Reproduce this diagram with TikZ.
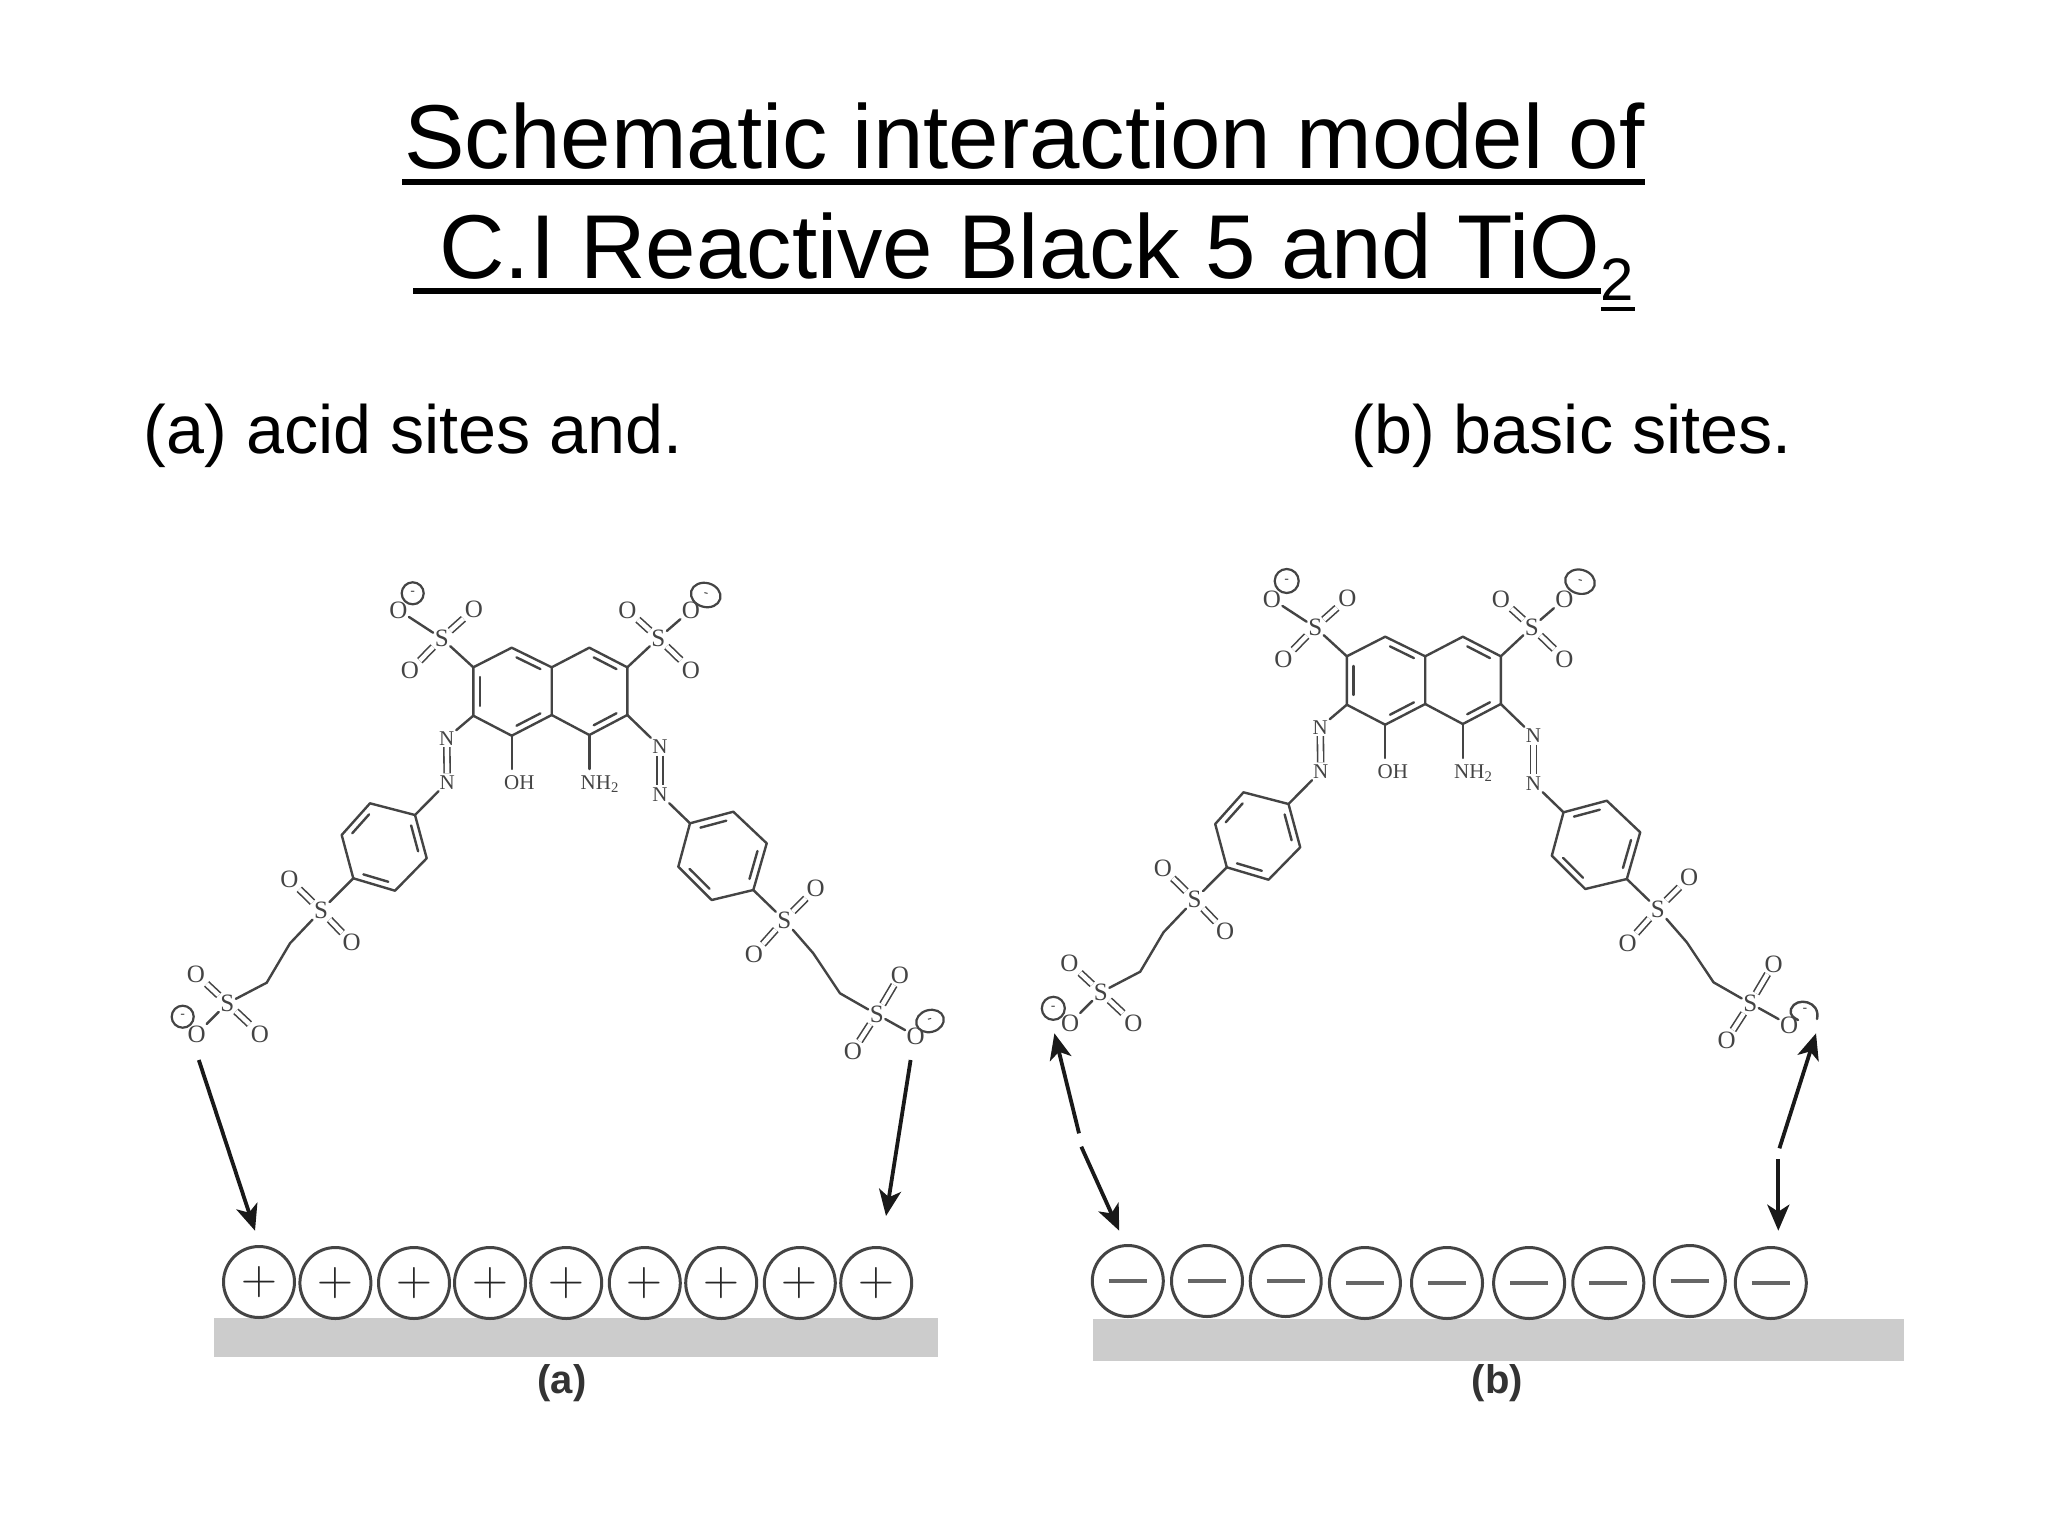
\documentclass[tikz,border=0pt]{standalone}
\usepackage{fontspec}
\setmainfont{Liberation Sans}
\newfontfamily\atomfont{Liberation Serif}
\usetikzlibrary{calc,arrows.meta,shapes.geometric}
\definecolor{ink}{HTML}{444444}
\definecolor{barfill}{HTML}{CCCCCC}
\newcommand{\innerbond}[3]{\draw[bond] ($($(#1)!.14!(#2)$)!.17!(#3)$) -- ($($(#2)!.14!(#1)$)!.17!(#3)$);}
\tikzset{
  bond/.style={draw=ink,line width=1.2pt,line join=round,line cap=round},
  dbond/.style={draw=ink,line width=.8pt,double=white,double distance=2.2pt},
  atom/.style={font=\atomfont\fontsize{12.5}{13}\selectfont,text=ink,inner sep=.6pt},
  smallatom/.style={font=\atomfont\fontsize{10.5}{11}\selectfont,text=ink,inner sep=.8pt},
  ion/.style={draw=ink,ellipse,line width=1.1pt,inner sep=0pt,font=\fontsize{7}{7}\selectfont,text=ink},
  site/.style={circle,draw=ink,line width=1.5pt,minimum size=35.5pt,inner sep=0pt,text=black!85},
  arrowline/.style={draw=black!90,line width=1.9pt},
  arrowhead/.style={arrowline,-{Stealth[length=13pt,width=11pt,inset=3.5pt]}},
  bar/.style={fill=barfill,draw=none},
  titletext/.style={anchor=base west,inner sep=0pt,font=\fontsize{45.35}{50}\selectfont},
  subtext/.style={anchor=base west,inner sep=0pt,font=\fontsize{34.15}{38}\selectfont},
  panellabel/.style={inner sep=0pt,font=\bfseries\fontsize{20}{22}\selectfont,text=black!80},
  dye/.pic={
    % naphthalene core
    \coordinate (a1) at (473.3,667.3); \coordinate (a2) at (511.7,647.7);
    \coordinate (a3) at (551.7,667.3); \coordinate (a4) at (551.7,715);
    \coordinate (a5) at (511.7,735.7); \coordinate (a6) at (473.3,715.7);
    \coordinate (b2) at (589.3,647.7); \coordinate (b3) at (627.3,667.3);
    \coordinate (b4) at (627.3,715);   \coordinate (b5) at (589.3,735);
    \coordinate (ca) at ($(a1)!.5!(a4)$); \coordinate (cb) at ($(a3)!.5!(b4)$);
    \draw[bond] (a1)--(a2)--(a3)--(a4)--(a5)--(a6)--cycle;
    \draw[bond] (a3)--(b2)--(b3)--(b4)--(b5)--(a4);
    \innerbond{a1}{a6}{ca}\innerbond{a2}{a3}{ca}\innerbond{a4}{a5}{ca}
    \innerbond{b2}{b3}{cb}\innerbond{b4}{b5}{cb}
    % top sulfonates
    \node[atom] (s1) at (441.7,638.3) {S};
    \node[atom] (o11) at (474,609.3) {O};
    \node[atom] (o12) at (410,670.7) {O};
    \node[atom] (o13) at (398.3,610) {O};
    \draw[bond] (a1)--(s1) (s1)--(o13);
    \draw[dbond] (s1)--(o11); \draw[dbond] (s1)--(o12);
    \node[atom] (s2) at (658.3,638.3) {S};
    \node[atom] (o21) at (627.3,610) {O};
    \node[atom] (o22) at (691,670) {O};
    \node[atom] (o23) at (691,610) {O};
    \draw[bond] (b3)--(s2) (s2)--(o23);
    \draw[dbond] (s2)--(o21); \draw[dbond] (s2)--(o22);
    % OH and NH2
    \node[smallatom] (oh) at (519.3,782.3) {OH};
    \node[smallatom] (nh) at (600,784.3) {NH\textsubscript{2}};
    \coordinate (ohb) at (511.7,769); \coordinate (nhb) at (589.3,769);
    \draw[bond] (a5)--(ohb) (b5)--(nhb);
    % left azo and phenyl
    \node[smallatom] (n1) at (446.7,738.3) {N};
    \node[smallatom] (n2) at (447.3,782.3) {N};
    \draw[bond] (a6)--(n1);
    \draw[dbond] (n1)--(n2);
    \coordinate (p1) at (415,815);     \coordinate (p2) at (370,803.3);
    \coordinate (p3) at (341.7,835);   \coordinate (p4) at (353.3,878.3);
    \coordinate (p5) at (395,890.7);   \coordinate (p6) at (426.7,858.3);
    \coordinate (cp) at ($(p1)!.5!(p4)$);
    \draw[bond] (n2)--(p1);
    \draw[bond] (p1)--(p2)--(p3)--(p4)--(p5)--(p6)--cycle;
    \innerbond{p2}{p3}{cp}\innerbond{p1}{p6}{cp}\innerbond{p4}{p5}{cp}
    % left sulfonyl chain
    \node[atom] (s3) at (321,910.7) {S};
    \node[atom] (o31) at (289.3,879.3) {O};
    \node[atom] (o32) at (351.7,942.7) {O};
    \draw[bond] (p4)--(s3);
    \draw[dbond] (s3)--(o31); \draw[dbond] (s3)--(o32);
    \node[atom] (s4) at (227.3,1003.3) {S};
    \coordinate (c1) at (290,943.3); \coordinate (c2) at (266.7,982.7);
    \draw[bond] (s3)--(c1)--(c2)--(s4);
    \node[atom] (o41) at (196,974) {O};
    \node[atom] (o42) at (260,1034) {O};
    \node[atom] (o43) at (196.7,1034) {O};
    \draw[dbond] (s4)--(o41); \draw[dbond] (s4)--(o42);
    \draw[bond] (s4)--(o43);
    % right azo and phenyl
    \node[smallatom] (n3) at (660,746.7) {N};
    \node[smallatom] (n4) at (660,794.3) {N};
    \draw[bond] (b4)--(n3);
    \draw[dbond] (n3)--(n4);
    \coordinate (q1) at (690,823.3);   \coordinate (q2) at (733.3,811.7);
    \coordinate (q3) at (766.7,843.3); \coordinate (q4) at (753.3,890);
    \coordinate (q5) at (711.7,900);   \coordinate (q6) at (678.3,866.7);
    \coordinate (cq) at ($(q1)!.5!(q4)$);
    \draw[bond] (n4)--(q1);
    \draw[bond] (q1)--(q2)--(q3)--(q4)--(q5)--(q6)--cycle;
    \innerbond{q1}{q2}{cq}\innerbond{q3}{q4}{cq}\innerbond{q5}{q6}{cq}
    % right sulfonyl chain
    \node[atom] (s5) at (784.3,920) {S};
    \node[atom] (o51) at (815.7,888.3) {O};
    \node[atom] (o52) at (754,954) {O};
    \draw[bond] (q4)--(s5);
    \draw[dbond] (s5)--(o51); \draw[dbond] (s5)--(o52);
    \node[atom] (s6) at (876.7,1014.3) {S};
    \coordinate (c3) at (813.3,953.3); \coordinate (c4) at (840,993.3);
    \draw[bond] (s5)--(c3)--(c4)--(s6);
    \node[atom] (o61) at (900,975) {O};
    \node[atom] (o62) at (853,1051) {O};
    \node[atom] (o63) at (915.7,1036) {O};
    \draw[dbond] (s6)--(o61); \draw[dbond] (s6)--(o62);
    \draw[bond] (s6)--(o63);
  }
}
\begin{document}
\begin{tikzpicture}[x=.5pt,y=-.5pt]
\useasboundingbox (0,0) rectangle (2048,1536);
\fill[white] (0,0) rectangle (2048,1536);

% title
\node[titletext] (t1) at (404,168.3) {Schematic interaction model of};
\node[titletext] (t2) at (439,278.3) {C.I Reactive Black 5 and TiO{\fontsize{30}{30}\selectfont\raisebox{-10.85pt}{2}}};
\draw[black,line width=3.2pt] (402.3,181.7) -- (1645.4,181.7);
\draw[black,line width=3.2pt] (413,290.7) -- (1601,290.7);
\draw[black,line width=2.2pt] (1601,309) -- (1635,309);

% subtitles
\node[subtext] (sa) at (143.3,453) {(a) acid sites and.};
\node[subtext] (sb) at (1351,453) {(b) basic sites.};

% molecules
\pic (L) at (0,0) {dye};
\pic (R) at (873.5,-11) {dye};

% charges, left
\node[ion,minimum width=11pt,minimum height=11pt] (ilt) at (412.7,593.3) {-};
\node[ion,minimum width=15pt,minimum height=12pt,rotate=-15] (ilr) at (705.7,595) {-};
\node[ion,minimum width=11pt,minimum height=11pt] (ilb) at (182.7,1016.7) {-};
\node[ion,minimum width=14pt,minimum height=11pt,rotate=15] (ilc) at (930,1021) {-};
% charges, right
\node[ion,minimum width=12pt,minimum height=12pt] (irt) at (1286.7,581) {-};
\node[ion,minimum width=15pt,minimum height=12pt,rotate=-15] (irr) at (1580,581.7) {-};
\node[ion,minimum width=11.5pt,minimum height=11.5pt] (irb) at (1053.3,1008.3) {-};
\node[inner sep=0pt,font=\fontsize{7}{7}\selectfont,text=ink] (irc) at (1805,1010) {-};
\draw[bond] (1817,1019) .. controls (1821,1001) and (1796,996) .. (1791,1009) .. controls (1789,1015) and (1794,1018) .. (1798,1020);

% arrows, panel a
\coordinate (aa1) at (198.8,1060); \coordinate (aa2) at (255,1230.7);
\coordinate (aa3) at (910.6,1060); \coordinate (aa4) at (886,1216);
\draw[arrowhead] (aa1) -- (aa2);
\draw[arrowhead] (aa3) -- (aa4);

% arrows, panel b
\coordinate (ba1) at (1079,1133.3); \coordinate (ba2) at (1054.4,1033.3);
\coordinate (ba3) at (1081.3,1146.7); \coordinate (ba4) at (1119.2,1230.7);
\coordinate (bb1) at (1779.4,1148.3); \coordinate (bb2) at (1816,1033.3);
\coordinate (bb3) at (1778.3,1159.3); \coordinate (bb4) at (1778.3,1230.7);
\draw[arrowhead] (ba1) -- (ba2);
\draw[arrowhead] (ba3) -- (ba4);
\draw[arrowhead] (bb1) -- (bb2);
\draw[arrowhead] (bb3) -- (bb4);

% substrate bars
\fill[bar] (214.3,1317.7) rectangle (938.2,1356.7);
\fill[bar] (1092.8,1319.3) rectangle (1904,1360.7);

% positive sites
\foreach \n/\px/\py in {1/259/1282,2/335.4/1283,3/414/1283,4/490/1283,5/566.2/1283,6/644.8/1283,7/721.2/1283,8/799.8/1283,9/876.2/1283}
  \node[site] (pos\n) at (\px,\py) {\fontsize{30}{30}\selectfont$+$};
% negative sites
\foreach \n/\px/\py in {1/1127.8/1281,2/1207/1281,3/1285.7/1281,4/1364.9/1283,5/1447/1283,6/1529.1/1283,7/1608.3/1283,8/1689.8/1281,9/1770.8/1283}
  \node[site] (neg\n) at (\px,\py) {\textcolor{black!60}{\rule{19pt}{2pt}}};

% panel labels
\node[panellabel] (la) at (562,1383) {(a)};
\node[panellabel] (lb) at (1497.5,1383) {(b)};
\end{tikzpicture}
\end{document}
